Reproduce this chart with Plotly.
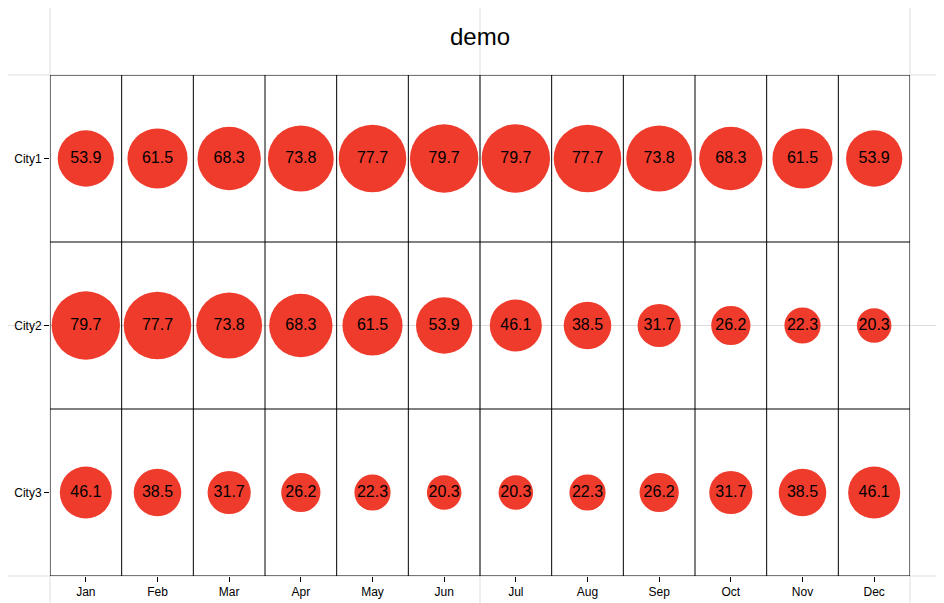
import plotly.graph_objects as go

months = ["Jan", "Feb", "Mar", "Apr", "May", "Jun", "Jul", "Aug", "Sep", "Oct", "Nov", "Dec"]
cities = ["City1", "City2", "City3"]
city1 = [53.9, 61.5, 68.3, 73.8, 77.7, 79.7, 79.7, 77.7, 73.8, 68.3, 61.5, 53.9]
city2 = [79.7, 77.7, 73.8, 68.3, 61.5, 53.9, 46.1, 38.5, 31.7, 26.2, 22.3, 20.3]
city3 = [46.1, 38.5, 31.7, 26.2, 22.3, 20.3, 20.3, 22.3, 26.2, 31.7, 38.5, 46.1]

xs, ys, vals = [], [], []
for name, row in zip(cities, [city1, city2, city3]):
    for m, v in zip(months, row):
        xs.append(m)
        ys.append(name)
        vals.append(v)

fig = go.Figure()
fig.add_trace(go.Scatter(
    x=xs, y=ys, mode="markers+text",
    text=[f"{v:.1f}" for v in vals],
    textfont=dict(size=16, color="black", family="Arial"),
    marker=dict(size=vals, sizemode="area", sizeref=max(vals) / 66 ** 2 * 1.86,
                color="#ef3b2c", opacity=1, line=dict(width=0)),
    hoverinfo="x+y+text", showlegend=False,
))

# cell grid
shapes = []
for i in range(len(months) + 1):
    shapes.append(dict(type="line", xref="x", yref="paper", x0=i - 0.5, x1=i - 0.5,
                       y0=0, y1=1, line=dict(color="black", width=1)))
for j in range(len(cities) + 1):
    shapes.append(dict(type="line", xref="paper", yref="y", x0=0, x1=1,
                       y0=j - 0.5, y1=j - 0.5, line=dict(color="black", width=1)))
# faint background grid
for px in [0, 0.5, 1]:
    shapes.append(dict(type="line", xref="paper", yref="paper", x0=px, x1=px,
                       y0=-0.1, y1=1.15, line=dict(color="#dddddd", width=1), layer="below"))
for py in [0, 0.5, 1]:
    shapes.append(dict(type="line", xref="paper", yref="paper", x0=-0.06, x1=1.06,
                       y0=py, y1=py, line=dict(color="#dddddd", width=1), layer="below"))

fig.update_layout(
    title=dict(text="demo", x=0.5, xanchor="center", y=0.953, yanchor="middle",
               automargin=False,
               font=dict(size=24, color="black", family="Arial")),
    width=944, height=603, autosize=False,
    margin=dict(l=42, r=42, t=67, b=35, autoexpand=False),
    plot_bgcolor="white", paper_bgcolor="white",
    shapes=shapes,
    xaxis=dict(type="category", categoryorder="array", categoryarray=months,
               range=[-0.5, 11.5], showgrid=False, zeroline=False, automargin=False,
               ticks="outside", ticklen=5, tickcolor="black",
               tickfont=dict(size=12, color="black", family="Arial")),
    yaxis=dict(type="category", categoryorder="array", categoryarray=cities,
               range=[2.5, -0.5], showgrid=False, zeroline=False, automargin=False,
               ticks="outside", ticklen=5, tickcolor="black", ticklabelstandoff=0,
               tickfont=dict(size=12, color="black", family="Arial")),
)

fig.write_html("out.html")
